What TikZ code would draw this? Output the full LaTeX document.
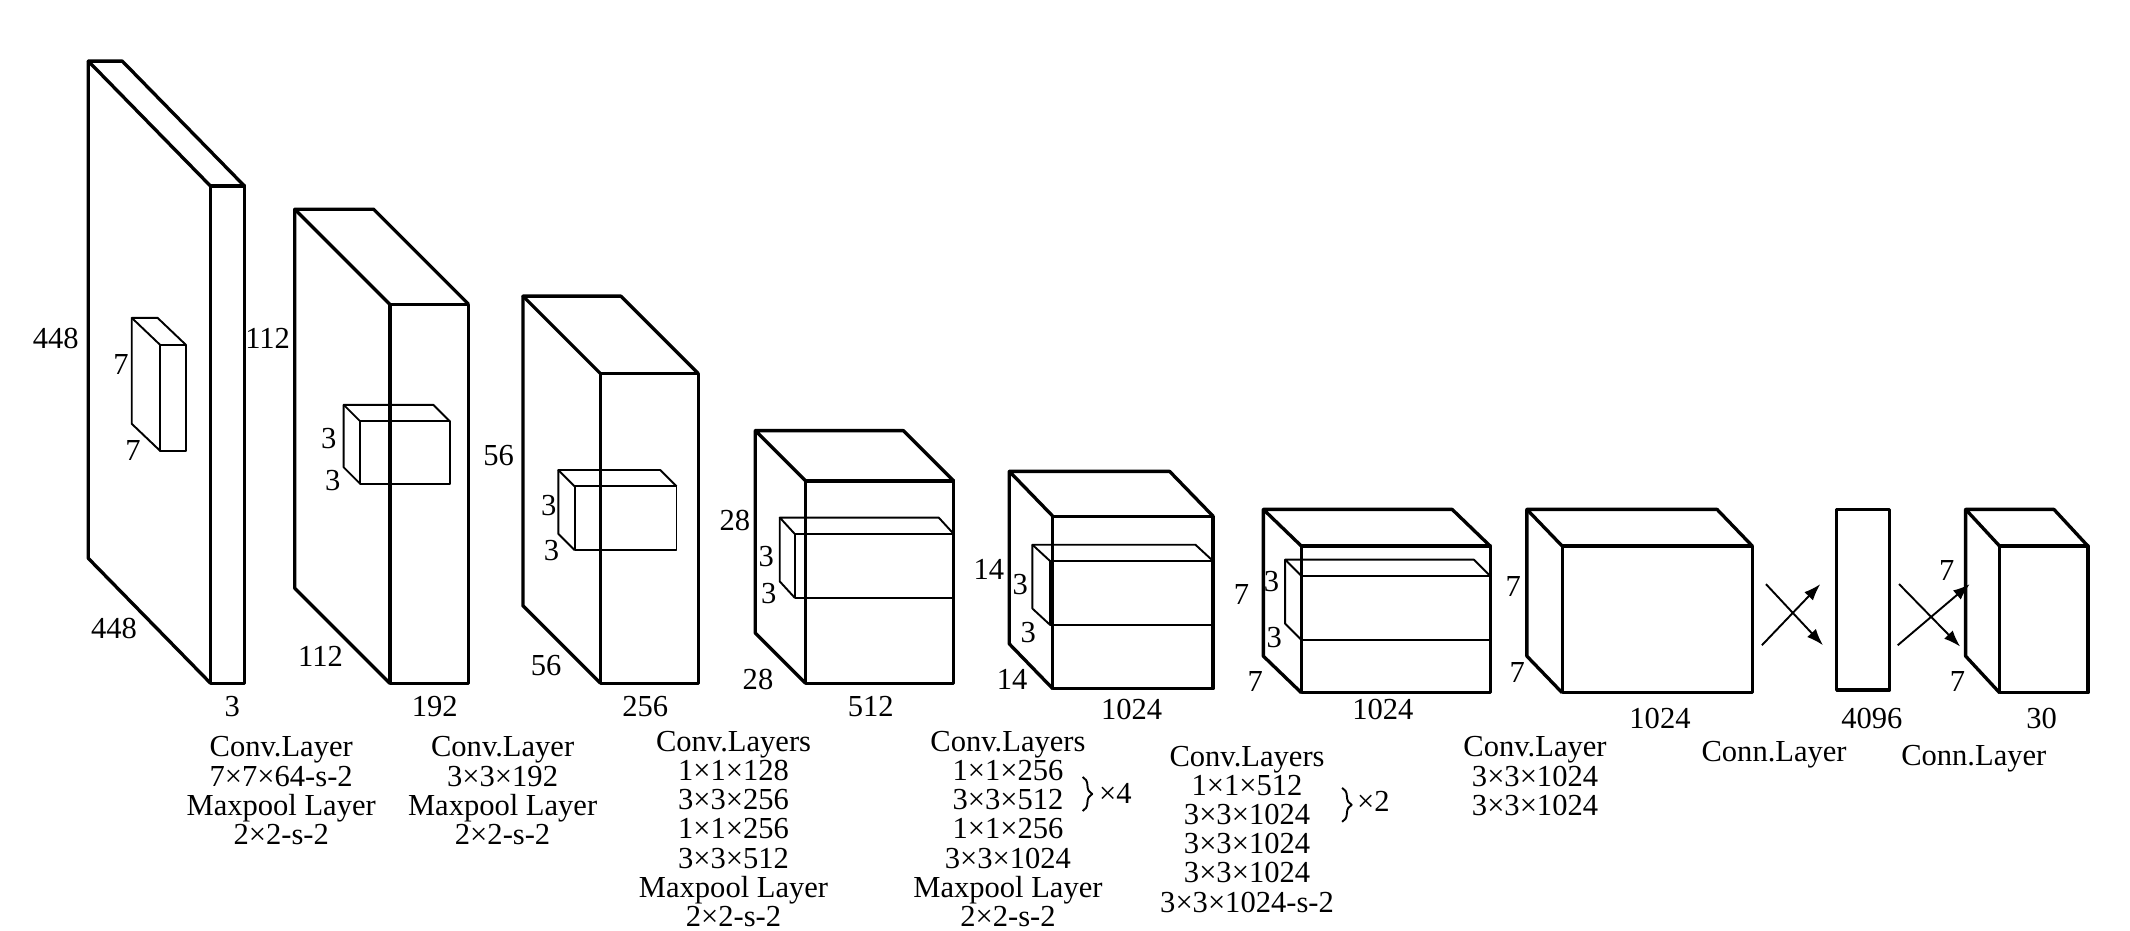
\documentclass[tikz,border=0pt]{standalone}
\usepackage{fontspec}
\setmainfont{Liberation Serif}
\usetikzlibrary{decorations.pathreplacing,arrows.meta}
\newcommand\cuboid[7][]{%
  \draw[#1] (#2,#3) rectangle (#4,#5);
  \draw[#1] (#2,#3) -- ++(#6,#7) -- ++({#4-#2},0) -- (#4,#3);
  \draw[#1] (#2,#3) ++(#6,#7) -- ++(0,{#5-#3}) -- (#2,#5);}
\begin{document}
\begin{tikzpicture}[x=0.02cm,y=-0.02cm,line join=round,
  big/.style={line width=1.4pt},
  small/.style={line width=0.8pt},
  lbl/.style={font=\fontsize{12.8}{12}\selectfont,inner sep=0pt},
  txt/.style={font=\fontsize{12.8}{12.2}\selectfont,align=center,anchor=north,inner sep=0pt},
  arr/.style={line width=0.8pt,-{Latex[length=7pt,width=5pt]}}]
\useasboundingbox (0,0) rectangle (1568,685);
% boxes
\cuboid[big]{155}{137}{180}{503}{-90}{-92}
\cuboid[small]{118}{254}{137}{332}{-21}{-20}
\cuboid[big]{287}{224}{345}{503}{-70}{-70}
\cuboid[small]{265}{310}{331}{356}{-12}{-12}
\cuboid[big]{442}{275}{514}{503}{-57}{-57}
\cuboid[small]{423}{358}{498}{405}{-12}{-12}
\cuboid[big]{593}{354}{702}{503}{-37}{-37}
\cuboid[small]{585}{393}{702}{440}{-11}{-12}
\cuboid[big]{775}{380}{893}{507}{-32}{-33}
\cuboid[small]{773}{413}{893}{460}{-13}{-12}
\cuboid[big]{958}{402}{1097}{510}{-28}{-27}
\cuboid[small]{958}{424}{1097}{471}{-12}{-12}
\cuboid[big]{1150}{402}{1290}{510}{-26}{-27}
\draw[big] (1352,375) rectangle (1391,508);
\cuboid[big]{1472}{402}{1537}{510}{-25}{-27}
% arrows
\coordinate (a1) at (1297,475); \coordinate (a2) at (1340,430);
\coordinate (a3) at (1300,430); \coordinate (a4) at (1342,475);
\draw[arr] (a1) -- (a2); \draw[arr] (a3) -- (a4);
\coordinate (b1) at (1397,475); \coordinate (b2) at (1450,430);
\coordinate (b3) at (1398,430); \coordinate (b4) at (1443,476);
\draw[arr] (b1) -- (b2); \draw[arr] (b3) -- (b4);
% dimension labels
\node[lbl] (l1) at (41,249) {448}; \node[lbl] (l2) at (89,268) {7};
\node[lbl] (l3) at (98,332) {7}; \node[lbl] (l4) at (84,463) {448};
\node[lbl] (l5) at (171,520) {3};
\node[lbl] (l6) at (197,249) {112}; \node[lbl] (l7) at (242,323) {3};
\node[lbl] (l8) at (245,354) {3}; \node[lbl] (l9) at (236,483) {112};
\node[lbl] (l10) at (320,520) {192};
\node[lbl] (l11) at (367,335) {56}; \node[lbl] (l12) at (404,372) {3};
\node[lbl] (l13) at (406,405) {3}; \node[lbl] (l14) at (402,490) {56};
\node[lbl] (l15) at (475,520) {256};
\node[lbl] (l16) at (541,383) {28}; \node[lbl] (l17) at (564,410) {3};
\node[lbl] (l18) at (566,437) {3}; \node[lbl] (l19) at (558,500) {28};
\node[lbl] (l20) at (641,520) {512};
\node[lbl] (l21) at (728,419) {14}; \node[lbl] (l22) at (751,430) {3};
\node[lbl] (l23) at (757,466) {3}; \node[lbl] (l24) at (745,500) {14};
\node[lbl] (l25) at (833,522) {1024};
\node[lbl] (l26) at (914,438) {7}; \node[lbl] (l27) at (936,428) {3};
\node[lbl] (l28) at (938,469) {3}; \node[lbl] (l29) at (924,502) {7};
\node[lbl] (l30) at (1018,522) {1024};
\node[lbl] (l31) at (1114,432) {7}; \node[lbl] (l32) at (1117,495) {7};
\node[lbl] (l33) at (1222,529) {1024};
\node[lbl] (l34) at (1378,529) {4096};
\node[lbl] (l35) at (1433,420) {7}; \node[lbl] (l36) at (1441,502) {7};
\node[lbl] (l37) at (1503,529) {30};
% text blocks
\node[txt] (t1) at (207,542) {Conv.Layer\\7×7×64-s-2\\Maxpool Layer\\2×2-s-2};
\node[txt] (t2) at (370,542) {Conv.Layer\\3×3×192\\Maxpool Layer\\2×2-s-2};
\node[txt] (t3) at (540,538) {Conv.Layers\\1×1×128\\3×3×256\\1×1×256\\3×3×512\\Maxpool Layer\\2×2-s-2};
\node[txt] (t4) at (742,538) {Conv.Layers\\1×1×256\\3×3×512\\1×1×256\\3×3×1024\\Maxpool Layer\\2×2-s-2};
\node[txt] (t5) at (918,549) {Conv.Layers\\1×1×512\\3×3×1024\\3×3×1024\\3×3×1024\\3×3×1024-s-2};
\node[txt] (t6) at (1130,542) {Conv.Layer\\3×3×1024\\3×3×1024};
\node[txt] (t7) at (1306,545) {Conn.Layer};
\node[txt] (t8) at (1453,548) {Conn.Layer};
% braces
\draw[line width=0.8pt,decorate,decoration={brace,amplitude=4pt}] (797,572) -- (797,597);
\node[lbl] (x4) at (821,584) {×4};
\draw[line width=0.8pt,decorate,decoration={brace,amplitude=4pt}] (988,580) -- (988,605);
\node[lbl] (x2) at (1011,590) {×2};
\end{tikzpicture}
\end{document}
